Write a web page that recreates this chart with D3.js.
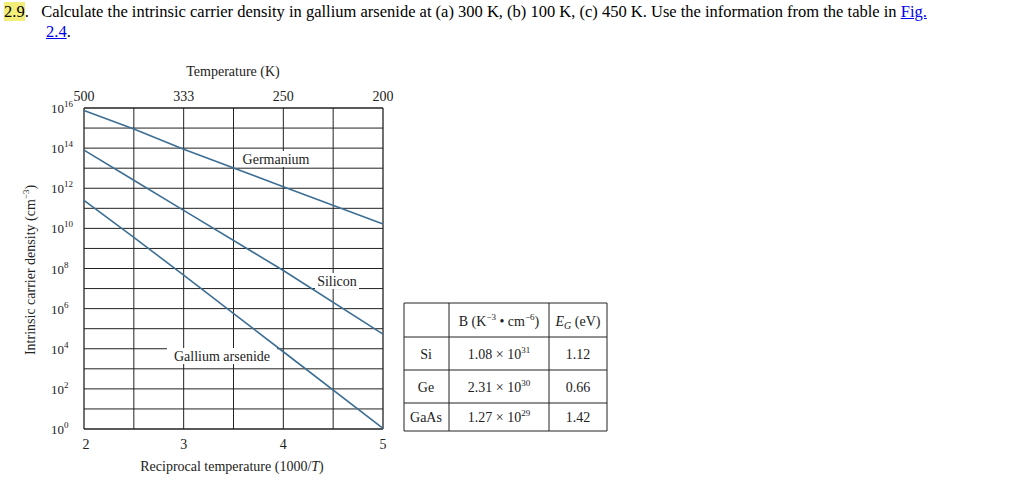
<!DOCTYPE html>
<html><head><meta charset="utf-8">
<script src="https://cdn.jsdelivr.net/npm/d3@7"></script>
<style>
body{margin:0;background:#fff;font-family:"Liberation Serif",serif;}
.q{position:absolute;left:4px;top:2px;font-size:16.5px;color:#000;width:1020px;line-height:20px;}
.q .hl{background:#f3ee7a;}
.q a{color:#00e;text-decoration:underline;}
svg{position:absolute;left:0;top:0;}
svg text{font-family:"Liberation Serif",serif;fill:#222;}
</style></head><body>
<div class="q"><span class="hl">2.9</span>. &nbsp;&nbsp;Calculate the intrinsic carrier density in gallium arsenide at (a) 300 K, (b) 100 K, (c) 450 K. Use the information from the table in <a>Fig.</a><br><span style="padding-left:42px"><a>2.4</a>.</span></div>
<svg id="c" width="1024" height="504"></svg>
<script>
// reciprocal temperature points (1000/T) and log10 of carrier density
var recip = [2, 2.5, 3, 4, 5];
var ge = [15.87, 14.95, 13.94, 12.08, 10.22];
var si = [13.9, 12.4, 10.9, 7.9, 4.73];
var gaas = [11.4, 9.55, 7.67, 3.85, 0.03];
var xTicks = [2, 3, 4, 5];
var tempTicks = [500, 333, 250, 200];
var yTicks = [0, 2, 4, 6, 8, 10, 12, 14, 16];
var tableRows = [["Si", "1.08", "31", "1.12"], ["Ge", "2.31", "30", "0.66"], ["GaAs", "1.27", "29", "1.42"]];

var svg = d3.select("#c");
var x = d3.scaleLinear().domain([2, 5]).range([84, 383]);
var y = d3.scaleLinear().domain([0, 16]).range([429, 108]);
var g = svg.append("g");

// grid
d3.range(2, 5.01, 0.5).forEach(function(v){
	g.append("line").attr("x1", x(v)).attr("x2", x(v)).attr("y1", y(0)).attr("y2", y(16))
		.style("stroke", "#222").style("stroke-width", v == 2 || v == 5 ? 1.3 : 1);
});
d3.range(0, 17).forEach(function(v){
	g.append("line").attr("x1", x(2)).attr("x2", x(5)).attr("y1", y(v)).attr("y2", y(v))
		.style("stroke", "#222").style("stroke-width", v == 0 || v == 16 ? 1.3 : 1);
});

var line = d3.line().x(function(d, i){return x(recip[i]);}).y(function(d){return y(d);});
[ge, si, gaas].forEach(function(s){
	g.append("path").attr("d", line(s)).style("fill", "none").style("stroke", "#3d6f94").style("stroke-width", 1.6);
});

// series labels with white backing
function label(txt, cx, cy, w){
	g.append("rect").attr("x", cx - w/2).attr("y", cy - 9).attr("width", w).attr("height", 16).style("fill", "#fff");
	g.append("text").attr("x", cx).attr("y", cy + 4).attr("text-anchor", "middle").style("font-size", "14px").text(txt);
}
label("Germanium", 276, 160, 76);
label("Silicon", 337, 282, 44);
label("Gallium arsenide", 222, 357, 110);

// bottom axis labels
xTicks.forEach(function(v){
	g.append("text").attr("x", x(v) + (v == 2 ? 2 : 0)).attr("y", 449).attr("text-anchor", "middle").style("font-size", "14px").text(v);
});
g.append("text").attr("x", 232).attr("y", 471).attr("text-anchor", "middle").style("font-size", "14px")
	.html('Reciprocal temperature (1000/<tspan font-style="italic">T</tspan>)');
// top axis
tempTicks.forEach(function(t, i){
	g.append("text").attr("x", x(xTicks[i])).attr("y", 101).attr("text-anchor", "middle").style("font-size", "14px").text(t);
});
g.append("text").attr("x", 233).attr("y", 76).attr("text-anchor", "middle").style("font-size", "14px").text("Temperature (K)");
// y labels
yTicks.forEach(function(v){
	var t = g.append("text").attr("x", 51).attr("y", y(v) + 5).style("font-size", "13px");
	t.append("tspan").text("10");
	t.append("tspan").attr("dy", -6).style("font-size", "9px").text(v);
});
g.append("text").attr("transform", "translate(35,270) rotate(-90)").attr("text-anchor", "middle").style("font-size", "14px")
	.html('Intrinsic carrier density (cm<tspan dy="-6" font-size="9px">−3</tspan><tspan dy="6">)</tspan>');

// table
var cols = [404, 449, 549, 607], rows = [303, 337, 370, 403, 431];
cols.forEach(function(c){ g.append("line").attr("x1", c).attr("x2", c).attr("y1", rows[0]).attr("y2", rows[4]).style("stroke", "#222"); });
rows.forEach(function(r){ g.append("line").attr("x1", cols[0]).attr("x2", cols[3]).attr("y1", r).attr("y2", r).style("stroke", "#222"); });
var h = g.append("text").attr("x", 499).attr("y", 326).attr("text-anchor", "middle").style("font-size", "14px");
h.html('B (K<tspan dy="-6" font-size="9px">−3</tspan><tspan dy="6"> • cm</tspan><tspan dy="-6" font-size="9px">−6</tspan><tspan dy="6">)</tspan>');
g.append("text").attr("x", 578).attr("y", 326).attr("text-anchor", "middle").style("font-size", "14px")
	.html('<tspan font-style="italic">E</tspan><tspan font-style="italic" font-size="10px" dy="3">G</tspan><tspan dy="-3"> (eV)</tspan>');
tableRows.forEach(function(r, i){
	var cy = (rows[i+1] + rows[i+2]) / 2 + 5;
	g.append("text").attr("x", 426).attr("y", cy).attr("text-anchor", "middle").style("font-size", "14px").text(r[0]);
	g.append("text").attr("x", 499).attr("y", cy).attr("text-anchor", "middle").style("font-size", "14px")
		.html(r[1] + ' × 10<tspan dy="-6" font-size="9px">' + r[2] + '</tspan>');
	g.append("text").attr("x", 578).attr("y", cy).attr("text-anchor", "middle").style("font-size", "14px").text(r[3]);
});
</script>
</body></html>
